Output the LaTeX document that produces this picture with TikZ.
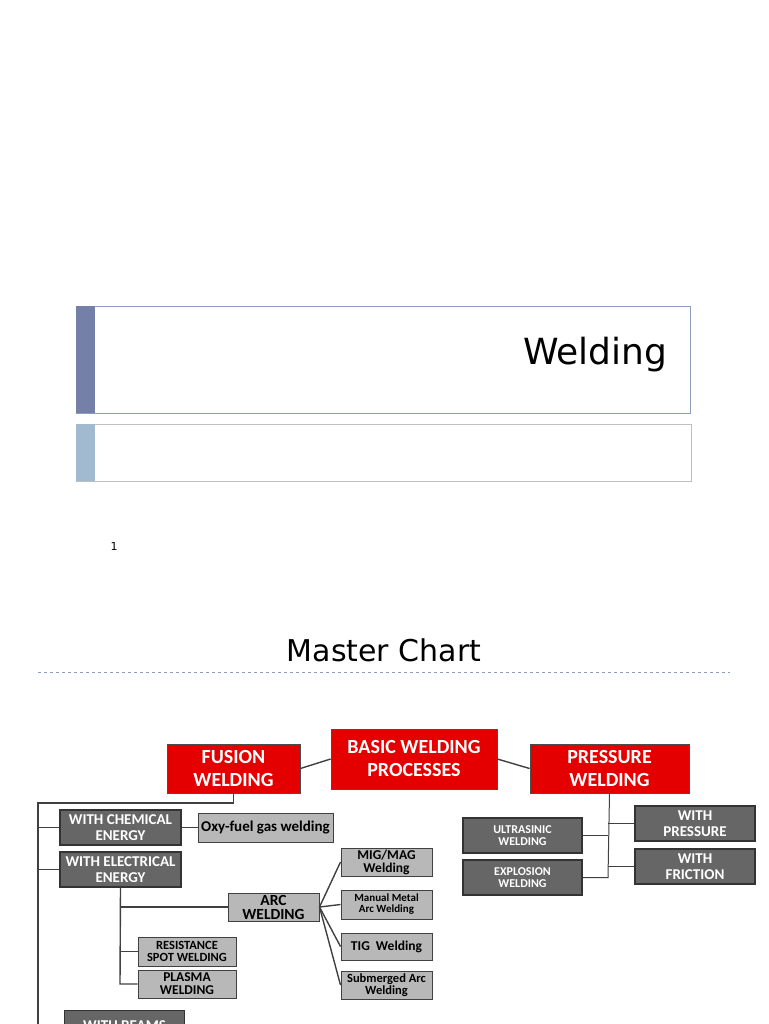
\documentclass[tikz,border=0pt]{standalone}
\usepackage{fontspec}
\setmainfont{DejaVu Sans}
\newfontfamily\cf{Carlito}
\definecolor{bar1}{HTML}{7480A8}
\definecolor{bar2}{HTML}{A2BACF}
\definecolor{frm}{HTML}{8E9CC0}
\begin{document}
\begin{tikzpicture}[x=1pt,y=-1pt,
 red/.style={draw=black!70,fill=red!90!black,text=white,font=\cf\bfseries\fontsize{20}{23}\selectfont,align=center,inner sep=0pt,line width=0.8pt},
 dg/.style={draw=black!80,fill=black!60,text=white,font=\cf\bfseries\fontsize{15}{15.5}\selectfont,align=center,inner sep=0pt,line width=1.2pt},
 lg/.style={draw=black!75,fill=black!28,text=black,font=\cf\bfseries\fontsize{13.5}{13}\selectfont,align=center,inner sep=0pt,line width=1pt},
 ln/.style={draw=black!75,line width=1.4pt}]
\useasboundingbox (0,0) rectangle (768,1024);
\clip (0,0) rectangle (768,1024);
% title slide
\node[draw=frm,minimum width=614,minimum height=107,inner sep=0,anchor=north west] (tb) at (76,306) {};
\fill[fill=bar1] (76,306) rectangle (95,413);
\node[anchor=east,font=\fontsize{36}{40}\selectfont] (tt) at (671,355) {Welding};
\node[draw=black!25,minimum width=615,minimum height=57,inner sep=0,anchor=north west] (sb) at (76,424) {};
\fill[fill=bar2] (76,424) rectangle (95,481);
\node[font=\fontsize{11}{12}\selectfont] (pn) at (114,546) {1};
\node[font=\fontsize{30}{32}\selectfont] (mt) at (384,650) {Master Chart};
\draw[frm,dashed] (38,672) -- (730,672);
% chart
\node[red,minimum width=166,minimum height=60] (basic) at (414,759) {BASIC WELDING\\PROCESSES};
\node[red,minimum width=133,minimum height=49] (fus) at (233.5,768.5) {FUSION\\WELDING};
\node[red,minimum width=159,minimum height=49] (pre) at (609.5,768.5) {PRESSURE\\WELDING};
\draw[ln] (basic.west) -- (fus.east);
\draw[ln] (basic.east) -- (pre.west);
\node[dg,minimum width=121,minimum height=35] (chem) at (120.5,827.5) {WITH CHEMICAL\\ENERGY};
\node[lg,minimum width=135,minimum height=29,font=\cf\bfseries\fontsize{15}{15}\selectfont] (oxy) at (265.5,827.5) {Oxy-fuel gas welding};
\node[dg,minimum width=121,minimum height=35] (elec) at (120.5,869.5) {WITH ELECTRICAL\\ENERGY};
\node[dg,minimum width=120,minimum height=30,anchor=north west] (beam) at (64,1010) {WITH BEAMS};
\coordinate (fb) at (38,803);
\draw[ln] (fus.south) |- (fb) -- (38,1024);
\draw[ln] (38,827.5) -- (chem.west);
\draw[ln] (38,869.5) -- (elec.west);
\draw[ln] (chem.east) -- (oxy.west);
\node[lg,minimum width=91,minimum height=28,font=\cf\bfseries\fontsize{15.5}{14}\selectfont] (arc) at (273.5,907) {ARC\\WELDING};
\node[lg,minimum width=98,minimum height=29,font=\cf\bfseries\fontsize{12.5}{12}\selectfont] (res) at (187,951.5) {RESISTANCE\\SPOT WELDING};
\node[lg,minimum width=98,minimum height=28] (pla) at (187,984) {PLASMA\\WELDING};
\draw[ln] (elec.south) -- (120,984) -- (pla.west);
\draw[ln] (120,907) -- (arc.west);
\draw[ln] (120,951.5) -- (res.west);
\node[lg,minimum width=91,minimum height=28] (mig) at (386.5,862) {MIG/MAG\\Welding};
\node[lg,minimum width=91,minimum height=29,font=\cf\bfseries\fontsize{11}{11}\selectfont] (mma) at (386.5,904.5) {Manual Metal\\Arc Welding};
\node[lg,minimum width=91,minimum height=27] (tig) at (386.5,946.5) {TIG~ Welding};
\node[lg,minimum width=91,minimum height=28,font=\cf\bfseries\fontsize{12.5}{12}\selectfont] (sub) at (386.5,985) {Submerged Arc\\Welding};
\foreach \t in {mig,mma,tig,sub} \draw[ln] (arc.east) -- (\t.west);
% pressure side
\node[dg,minimum width=119,minimum height=35,font=\cf\bfseries\fontsize{12}{12.5}\selectfont] (ult) at (522.5,835.5) {ULTRASINIC\\WELDING};
\node[dg,minimum width=119,minimum height=35,font=\cf\bfseries\fontsize{12}{12.5}\selectfont] (exp) at (522.5,877.5) {EXPLOSION\\WELDING};
\node[dg,minimum width=120,minimum height=35] (wp) at (695,823.5) {WITH\\PRESSURE};
\node[dg,minimum width=120,minimum height=35] (wf) at (695,866.5) {WITH\\FRICTION};
\coordinate (pj) at (608,877.5);
\draw[ln,line width=1pt] (pre.south) -- (pj) -- (exp.east);
\draw[ln,line width=1pt] (ult.east) -- (608,835.5);
\draw[ln,line width=1pt] (608,823.5) -- (wp.west);
\draw[ln,line width=1pt] (608,866.5) -- (wf.west);
\end{tikzpicture}
\end{document}
